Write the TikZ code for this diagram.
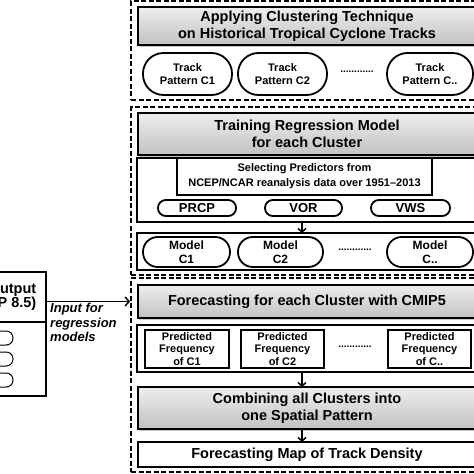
\documentclass[tikz,border=0pt]{standalone}
\usepackage{fontspec}
\setmainfont{Liberation Sans}
\usetikzlibrary{arrows.meta,shadows}
\begin{document}
\begin{tikzpicture}[x=1pt,y=-1pt,
  sz/.style 2 args={minimum width=#1pt,minimum height=#2pt},
  grp/.style={draw,dash pattern=on 5pt off 2.5pt,line width=1.8pt,inner sep=0pt},
  graybox/.style={draw,line width=1.8pt,inner sep=0pt,top color=gray!14,bottom color=gray!48,
     drop shadow={shadow xshift=1.2pt,shadow yshift=-1.5pt,opacity=0.45},
     font=\bfseries\fontsize{14.5}{17}\selectfont,align=center},
  whitebox/.style={draw,line width=1.8pt,inner sep=0pt,fill=white},
  oval/.style={draw,rounded corners=#1pt,line width=1.8pt,inner sep=0pt,fill=white},
  sel/.style={whitebox,font=\bfseries\fontsize{11}{15}\selectfont,align=center},
  trk/.style={oval=20.5,font=\bfseries\fontsize{11}{12.5}\selectfont,align=center},
  prd/.style={oval=7.8,font=\bfseries\fontsize{13}{15}\selectfont},
  mdl/.style={oval=14.7,font=\bfseries\fontsize{12}{14}\selectfont,align=center},
  frq/.style={whitebox,font=\bfseries\fontsize{11}{12.5}\selectfont,align=center},
  dts/.style={font=\bfseries\fontsize{10}{12}\selectfont,inner sep=0pt},
  arr/.style={line width=1.5pt,-{Straight Barb[length=3.5pt,width=8pt]}}
]
\path[use as bounding box] (0,0) rectangle (474,474);
\clip (0,0) rectangle (474,474);

% group 1
\node[grp,sz={348}{99}] (g1) at (305,50.5) {};
\node[graybox,sz={338}{38}] (apply) at (307,26) {Applying Clustering Technique\\on Historical Tropical Cyclone Tracks};
\node[trk,sz={89}{42}] (t1) at (187.5,74) {Track\\Pattern C1};
\node[trk,sz={89}{42}] (t2) at (282.5,74) {Track\\Pattern C2};
\node[dts] (td) at (357,72) {............};
\node[trk,sz={86}{42}] (t3) at (430,74) {Track\\Pattern C..};

% group 2
\node[grp,sz={348}{168}] (g2) at (305,191) {};
\node[graybox,sz={338}{42}] (train) at (307,134) {Training Regression Model\\for each Cluster};
\node[whitebox,sz={343}{64}] (selc) at (308.5,190) {};
\node[sel,sz={255}{37}] (selb) at (304.5,176.5) {Selecting Predictors from\\NCEP/NCAR reanalysis data over 1951--2013};
\node[prd,sz={78}{16}] (p1) at (197,208) {PRCP};
\node[prd,sz={77}{16}] (p2) at (303.5,208) {VOR};
\node[prd,sz={79}{16}] (p3) at (410.5,208) {VWS};
\node[whitebox,sz={343}{37}] (modc) at (308.5,251.5) {};
\node[mdl,sz={87}{30}] (m1) at (186.5,252) {Model\\C1};
\node[mdl,sz={85}{30}] (m2) at (280.5,252) {Model\\C2};
\node[dts] (md) at (355,250) {............};
\node[mdl,sz={86}{30}] (m3) at (430,252) {Model\\C..};
\coordinate (a1s) at (302,222);
\coordinate (a1e) at (302,233);
\draw[arr] (a1s) -- (a1e);

% group 3
\node[grp,sz={348}{194}] (g3) at (305,375) {};
\node[graybox,sz={338}{33}] (fcst) at (307,301.5) {Forecasting for each Cluster with CMIP5};
\node[whitebox,sz={343}{47}] (frqc) at (308.5,348.5) {};
\node[frq,sz={84}{38}] (f1) at (187,349) {Predicted\\Frequency\\of C1};
\node[frq,sz={83}{38}] (f2) at (282.5,349) {Predicted\\Frequency\\of C2};
\node[dts] (fd) at (355,347) {............};
\node[frq,sz={83}{38}] (f3) at (429.5,349) {Predicted\\Frequency\\of C..};
\node[graybox,sz={338}{42}] (comb) at (307,408) {Combining all Clusters into\\one Spatial Pattern};
\node[whitebox,sz={338}{25},font=\bfseries\fontsize{14.5}{17}\selectfont] (map) at (307,454.5) {Forecasting Map of Track Density};
\coordinate (a2s) at (302,372);
\coordinate (a2e) at (302,387);
\coordinate (a3s) at (302,429);
\coordinate (a3e) at (302,442);
\draw[arr] (a2s) -- (a2e);
\draw[arr] (a3s) -- (a3e);

% left box
\node[whitebox,line width=1.5pt,sz={106}{50}] (gcmhead) at (-7,297) {};
\node[whitebox,line width=1.5pt,sz={106}{74}] (gcmbody) at (-7,359) {};
\node[anchor=east,align=right,inner sep=0pt,font=\bfseries\fontsize{14.5}{13.5}\selectfont] (gcmtext) at (36.5,297) {GCM Output\\(RCP 8.5)};
\node[draw,rounded corners=6.8pt,line width=1pt,inner sep=0pt,sz={43}{14}] (o1) at (-8.5,338) {};
\node[draw,rounded corners=6.8pt,line width=1pt,inner sep=0pt,sz={43}{14}] (o2) at (-8.5,359) {};
\node[draw,rounded corners=6.8pt,line width=1pt,inner sep=0pt,sz={43}{14}] (o3) at (-8.5,380) {};
\draw[line width=1.5pt,-{Straight Barb[length=4pt,width=9pt]}] (gcmhead.east |- fcst) -- (g3.west |- fcst);
\node[anchor=north west,align=left,inner sep=0pt,font=\bfseries\itshape\fontsize{13}{14.5}\selectfont] (inlab) at (50,303) {Input for\\regression\\models};
\end{tikzpicture}
\end{document}
